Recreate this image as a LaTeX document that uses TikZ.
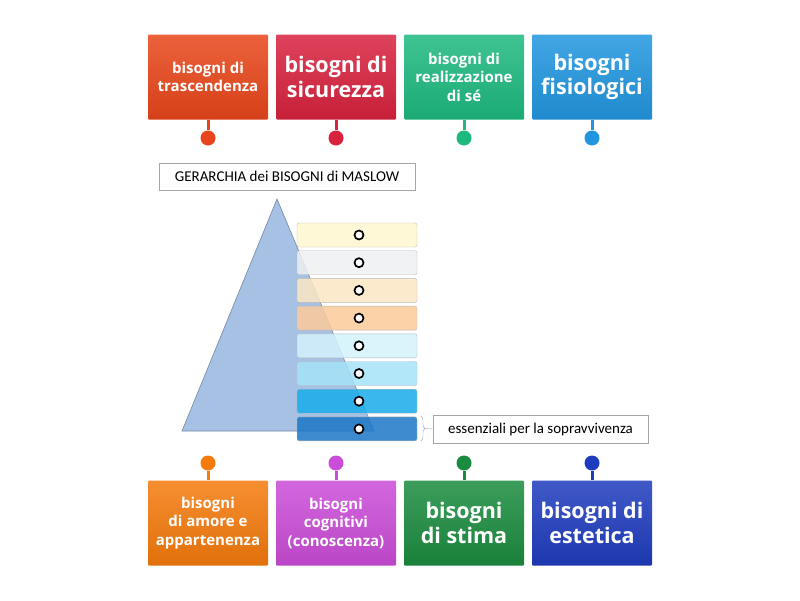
\documentclass[tikz,border=0pt]{standalone}
\usepackage{fontspec}
\setmainfont{Open Sans}
\newfontfamily\calibri{Carlito}
\usepackage{tikz}
\usetikzlibrary{positioning,decorations.pathreplacing}
\definecolor{trasc}{HTML}{E8461A}
\definecolor{sicur}{HTML}{D8223E}
\definecolor{realiz}{HTML}{1DB97F}
\definecolor{fisio}{HTML}{2196DF}
\definecolor{amore}{HTML}{F47A0C}
\definecolor{cogni}{HTML}{CB4CD8}
\definecolor{stima}{HTML}{1B8C3F}
\definecolor{estet}{HTML}{1F3CBE}
\definecolor{piramide}{HTML}{A7C1E4}
\definecolor{liv1}{HTML}{FFF7CF}
\definecolor{liv2}{HTML}{EEF0F2}
\definecolor{liv3}{HTML}{FCE6C4}
\definecolor{liv4}{HTML}{FCCA9A}
\definecolor{liv5}{HTML}{D4F2FC}
\definecolor{liv6}{HTML}{A5E2F8}
\definecolor{liv7}{HTML}{18ACEA}
\definecolor{liv8}{HTML}{1B76C6}
\tikzset{%
    card/.style={%
        rectangle, minimum width=120pt, minimum height=85pt, inner sep=2pt,
        text=white, align=center, rounded corners=1pt,
        top color=#1!85!white, bottom color=#1!92!black
    },
    big/.style={%
        font=\bfseries\fontsize{21.5}{24.5}\selectfont
    },
    small/.style={%
        font=\bfseries\fontsize{15}{18.5}\selectfont
    },
    pin/.style={%
        circle, fill=#1, inner sep=0pt, minimum size=15pt
    },
    stem/.style={%
        line width=3pt, draw=#1
    },
    row/.style={%
        draw=gray!55, fill=#1, fill opacity=0.85, rounded corners=2pt,
        minimum width=120pt, minimum height=24pt
    },
    hole/.style={%
        circle, draw, line width=1.7pt, fill=white, inner sep=0pt, minimum size=9pt
    },
    note/.style={%
        draw=gray!70, rectangle, font=\calibri\fontsize{15}{17}\selectfont, inner sep=0pt
    }
}

\begin{document}
\begin{tikzpicture}[x=1pt,y=-1pt]
    \useasboundingbox (0,0) rectangle (800,600);

    % cards on top
    \node[card=trasc, small] (trascendenza) at (208,77) {bisogni di\\trascendenza};
    \node[card=sicur, big] (sicurezza) at (336,77) {bisogni di\\sicurezza};
    \node[card=realiz, small] (realizzazione) at (464,77) {bisogni di\\realizzazione\\di sé};
    \node[card=fisio, big] (fisiologici) at (592,77) {bisogni\\fisiologici};
    \node[pin=trasc] (p-trasc) at (208,138) {};
    \node[pin=sicur] (p-sicur) at (336,138) {};
    \node[pin=realiz] (p-realiz) at (464,138) {};
    \node[pin=fisio] (p-fisio) at (592,138) {};
    \draw[stem=trasc] (trascendenza.south) -- (p-trasc);
    \draw[stem=sicur] (sicurezza.south) -- (p-sicur);
    \draw[stem=realiz] (realizzazione.south) -- (p-realiz);
    \draw[stem=fisio] (fisiologici.south) -- (p-fisio);

    % cards at the bottom
    \node[card=amore, small] (amore) at (208,523) {bisogni\\di amore e\\appartenenza};
    \node[card=cogni, small] (cognitivi) at (336,523) {bisogni\\cognitivi\\(conoscenza)};
    \node[card=stima, big] (stima) at (464,523) {bisogni\\di stima};
    \node[card=estet, big] (estetica) at (592,523) {bisogni di\\estetica};
    \node[pin=amore] (p-amore) at (208,463) {};
    \node[pin=cogni] (p-cogni) at (336,463) {};
    \node[pin=stima] (p-stima) at (464,463) {};
    \node[pin=estet] (p-estet) at (592,463) {};
    \draw[stem=amore] (amore.north) -- (p-amore);
    \draw[stem=cogni] (cognitivi.north) -- (p-cogni);
    \draw[stem=stima] (stima.north) -- (p-stima);
    \draw[stem=estet] (estetica.north) -- (p-estet);

    % pyramid
    \node[note, minimum width=256pt, minimum height=27pt] (titolo) at (287,176.5) {GERARCHIA dei BISOGNI di MASLOW};
    \filldraw[fill=piramide, draw=piramide!70!black, line width=0.6pt]
        (277,199) -- (182,431) -- (374,431) -- cycle;

    \node[row=liv1] (r1) at (357,235) {};
    \node[row=liv2] (r2) at (357,262.7) {};
    \node[row=liv3] (r3) at (357,290.4) {};
    \node[row=liv4] (r4) at (357,318.1) {};
    \node[row=liv5] (r5) at (357,345.8) {};
    \node[row=liv6] (r6) at (357,373.5) {};
    \node[row=liv7] (r7) at (357,401.2) {};
    \node[row=liv8] (r8) at (357,428.9) {};
    \node[hole] at ([xshift=2pt]r1.center) {};
    \node[hole] at ([xshift=2pt]r2.center) {};
    \node[hole] at ([xshift=2pt]r3.center) {};
    \node[hole] at ([xshift=2pt]r4.center) {};
    \node[hole] at ([xshift=2pt]r5.center) {};
    \node[hole] at ([xshift=2pt]r6.center) {};
    \node[hole] at ([xshift=2pt]r7.center) {};
    \node[hole] at ([xshift=2pt]r8.center) {};

    % the base
    \node[note, minimum width=215pt, minimum height=28pt] (essenziali) at (540.5,429) {essenziali per la sopravvivenza};
    \draw[gray!70, decorate, decoration={brace, amplitude=4pt}]
        (421,416) -- coordinate[xshift=4pt] (punta) (421,441);
    \draw[gray!70]
        (punta) -- (essenziali.west);
\end{tikzpicture}
\end{document}
